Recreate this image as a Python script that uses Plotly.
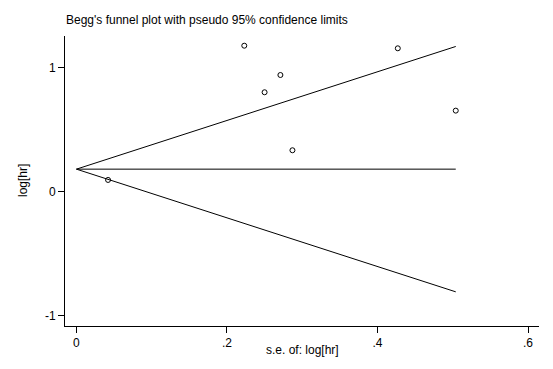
import plotly.graph_objects as go

# Study data
se_vals = [0.223, 0.271, 0.250, 0.287, 0.427, 0.504, 0.042]
loghr_vals = [1.174, 0.938, 0.799, 0.332, 1.153, 0.651, 0.093]

x_tick_vals = [0, 0.2, 0.4, 0.6]
x_tick_text = ["0", ".2", ".4", ".6"]
y_tick_vals = [-1, 0, 1]
y_tick_text = ["-1", "0", "1"]

# Fixed-effect pooled estimate and pseudo 95% limits
w = [1 / s ** 2 for s in se_vals]
pooled = sum(wi * yi for wi, yi in zip(w, loghr_vals)) / sum(w)
se_max = max(se_vals)
line_x = [0, se_max]

fig = go.Figure()
line_style = dict(color="black", width=1)
fig.add_trace(go.Scatter(x=line_x, y=[pooled, pooled + 1.96 * se_max], mode="lines", line=line_style))
fig.add_trace(go.Scatter(x=line_x, y=[pooled, pooled], mode="lines", line=line_style))
fig.add_trace(go.Scatter(x=line_x, y=[pooled, pooled - 1.96 * se_max], mode="lines", line=line_style))
fig.add_trace(go.Scatter(
    x=se_vals, y=loghr_vals, mode="markers",
    marker=dict(symbol="circle-open", size=5, color="black", line=dict(width=1, color="black")),
))

font = dict(family="Arial, Liberation Sans, sans-serif", size=12, color="black")

fig.update_layout(
    width=553, height=369,
    margin=dict(l=65, r=14, t=36, b=43),
    paper_bgcolor="white", plot_bgcolor="white",
    showlegend=False,
    font=font,
    xaxis=dict(
        range=[-0.0152, 0.6146], tickvals=x_tick_vals, ticktext=x_tick_text,
        showgrid=False, zeroline=False, showline=True, linecolor="black", linewidth=1,
        ticks="outside", ticklen=6, tickcolor="black", tickwidth=1, tickfont=font,
    ),
    yaxis=dict(
        range=[-1.083, 1.252], tickvals=y_tick_vals, ticktext=y_tick_text,
        showgrid=False, zeroline=False, showline=True, linecolor="black", linewidth=1,
        ticks="outside", ticklen=6, tickcolor="black", tickwidth=1, tickfont=font,
    ),
    annotations=[
        dict(text="Begg's funnel plot with pseudo 95% confidence limits", xref="paper", yref="paper",
             x=-0.002, y=1.055, xanchor="left", yanchor="middle", showarrow=False, font=font),
        dict(text="s.e. of: log[hr]", xref="paper", yref="paper",
             x=0.5, y=-0.083, xanchor="center", yanchor="middle", showarrow=False, font=font),
        dict(text="log[hr]", xref="paper", yref="paper", textangle=-90,
             x=-0.0886, y=0.5, xanchor="center", yanchor="middle", showarrow=False, font=font),
    ],
)

fig.write_html(
    "out.html",
    config={"displayModeBar": False},
    post_script="document.body.style.margin='0';document.body.style.overflow='hidden';",
)
